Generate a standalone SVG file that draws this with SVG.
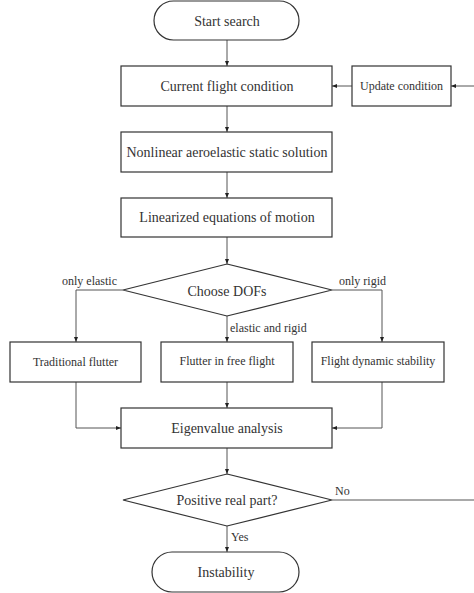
<svg xmlns="http://www.w3.org/2000/svg" width="474" height="593" viewBox="0 0 474 593">
<defs>
<marker id="ah" viewBox="0 0 10 10" refX="10" refY="5" markerWidth="5" markerHeight="5" orient="auto" markerUnits="userSpaceOnUse">
<path d="M0,1 L10,5 L0,9 Z" fill="#222"/>
</marker>
<style>
.n{fill:#fff;stroke:#333;stroke-width:1.2}
.c{fill:none;stroke:#555;stroke-width:1}
text{font-family:"Liberation Serif","DejaVu Serif",serif;fill:#333}
.t{font-size:14px;text-anchor:middle;dominant-baseline:central}
.s{font-size:12px;text-anchor:middle;dominant-baseline:central}
.l{font-size:12px}
</style>
</defs>
<rect width="474" height="593" fill="#fff"/>
<g id="connectors">
<path class="c" d="M227,40 V66" marker-end="url(#ah)"/>
<path class="c" d="M474,86 H451" marker-end="url(#ah)"/>
<path class="c" d="M352,86 H332" marker-end="url(#ah)"/>
<path class="c" d="M227,106 V132" marker-end="url(#ah)"/>
<path class="c" d="M227,172 V198" marker-end="url(#ah)"/>
<path class="c" d="M227,237 V264" marker-end="url(#ah)"/>
<path class="c" d="M123,290 H76 V342" marker-end="url(#ah)"/>
<path class="c" d="M227,316 V342" marker-end="url(#ah)"/>
<path class="c" d="M332,290 H382 V342" marker-end="url(#ah)"/>
<path class="c" d="M76,382 V428 H121" marker-end="url(#ah)"/>
<path class="c" d="M227,382 V408" marker-end="url(#ah)"/>
<path class="c" d="M382,382 V428 H332" marker-end="url(#ah)"/>
<path class="c" d="M227,448 V474" marker-end="url(#ah)"/>
<path class="c" d="M332,500 H474"/>
<path class="c" d="M227,526 V552" marker-end="url(#ah)"/>
<text class="l" x="62" y="285">only elastic</text>
<text class="l" x="339" y="285">only rigid</text>
<text class="l" x="230" y="332">elastic and rigid</text>
<text class="l" x="335" y="495">No</text>
<text class="l" x="231" y="541">Yes</text>
</g>
<g id="start"><rect class="n" x="154" y="1" width="145" height="39" rx="19.5"/><text class="t" x="227" y="21">Start search</text></g>
<g id="current"><rect class="n" x="121" y="66" width="211" height="40"/><text class="t" x="227" y="86">Current flight condition</text></g>
<g id="update"><rect class="n" x="352" y="66" width="99" height="40"/><text class="s" x="401.5" y="86">Update condition</text></g>
<g id="nonlinear"><rect class="n" x="121" y="132" width="211" height="40"/><text class="t" x="227" y="152">Nonlinear aeroelastic static solution</text></g>
<g id="linearized"><rect class="n" x="121" y="198" width="211" height="39"/><text class="t" x="227" y="217">Linearized equations of motion</text></g>
<g id="choose"><path class="n" d="M227,264 L332,290 L227,316 L123,290 Z"/><text class="t" x="227" y="291">Choose DOFs</text></g>
<g id="traditional"><rect class="n" x="10" y="342" width="131" height="40"/><text class="s" x="75.5" y="362">Traditional flutter</text></g>
<g id="freeflight"><rect class="n" x="161" y="342" width="132" height="40"/><text class="s" x="227" y="361">Flutter in free flight</text></g>
<g id="flightdyn"><rect class="n" x="312" y="342" width="132" height="40"/><text class="s" x="378" y="361">Flight dynamic stability</text></g>
<g id="eigen"><rect class="n" x="121" y="408" width="211" height="40"/><text class="t" x="227" y="428">Eigenvalue analysis</text></g>
<g id="positive"><path class="n" d="M227,474 L332,500 L227,526 L123,500 Z"/><text class="t" x="227" y="500">Positive real part?</text></g>
<g id="instability"><rect class="n" x="152" y="552" width="147" height="40" rx="20"/><text class="t" x="226" y="572">Instability</text></g>
</svg>
